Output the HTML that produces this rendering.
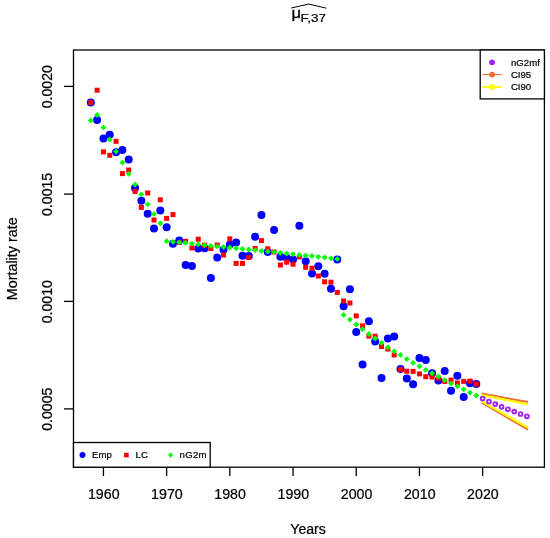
<!DOCTYPE html>
<html><head><meta charset="utf-8"><title>Mortality rate plot</title>
<style>html,body{margin:0;padding:0;background:#fff}svg{display:block}text{font-family:"Liberation Sans",Arial,Helvetica,sans-serif;fill:#000;stroke:#000;stroke-width:0.22px}</style>
</head><body>
<svg width="550" height="538" viewBox="0 0 550 538">
<rect x="0" y="0" width="550" height="538" fill="#fff"/>
<g fill="none" stroke-linecap="butt">
<line x1="481.8" y1="393.6" x2="528.1" y2="402.1" stroke="#EE6A36" stroke-width="2"/>
<line x1="481.8" y1="402.7" x2="528.1" y2="429.7" stroke="#EE6A36" stroke-width="2"/>
<line x1="481.8" y1="395.2" x2="528.1" y2="404.2" stroke="#FFFF00" stroke-width="2.2"/>
<line x1="481.8" y1="401.4" x2="528.1" y2="427.8" stroke="#FFFF00" stroke-width="2.2"/>
</g>
<g fill="#0000FF">
<circle cx="90.80" cy="102.6" r="4"/>
<circle cx="97.12" cy="120.1" r="4"/>
<circle cx="103.44" cy="138.6" r="4"/>
<circle cx="109.76" cy="134.7" r="4"/>
<circle cx="116.08" cy="152.3" r="4"/>
<circle cx="122.40" cy="150.1" r="4"/>
<circle cx="128.72" cy="159.6" r="4"/>
<circle cx="135.04" cy="188.0" r="4"/>
<circle cx="141.36" cy="200.8" r="4"/>
<circle cx="147.68" cy="213.8" r="4"/>
<circle cx="154.00" cy="228.5" r="4"/>
<circle cx="160.32" cy="210.5" r="4"/>
<circle cx="166.64" cy="227.2" r="4"/>
<circle cx="172.96" cy="243.8" r="4"/>
<circle cx="179.28" cy="240.6" r="4"/>
<circle cx="185.60" cy="265.1" r="4"/>
<circle cx="191.92" cy="266.0" r="4"/>
<circle cx="198.24" cy="248.6" r="4"/>
<circle cx="204.56" cy="248.3" r="4"/>
<circle cx="210.88" cy="278.0" r="4"/>
<circle cx="217.20" cy="257.5" r="4"/>
<circle cx="223.52" cy="249.8" r="4"/>
<circle cx="229.84" cy="244.4" r="4"/>
<circle cx="236.16" cy="242.6" r="4"/>
<circle cx="242.48" cy="255.7" r="4"/>
<circle cx="248.80" cy="255.9" r="4"/>
<circle cx="255.12" cy="236.7" r="4"/>
<circle cx="261.44" cy="215.0" r="4"/>
<circle cx="267.76" cy="252.0" r="4"/>
<circle cx="274.08" cy="229.9" r="4"/>
<circle cx="280.40" cy="256.8" r="4"/>
<circle cx="286.72" cy="258.0" r="4"/>
<circle cx="293.04" cy="259.6" r="4"/>
<circle cx="299.36" cy="225.8" r="4"/>
<circle cx="305.68" cy="261.3" r="4"/>
<circle cx="312.00" cy="273.6" r="4"/>
<circle cx="318.32" cy="266.2" r="4"/>
<circle cx="324.64" cy="273.7" r="4"/>
<circle cx="330.96" cy="288.8" r="4"/>
<circle cx="337.28" cy="259.6" r="4"/>
<circle cx="343.60" cy="306.2" r="4"/>
<circle cx="349.92" cy="289.3" r="4"/>
<circle cx="356.24" cy="332.1" r="4"/>
<circle cx="362.56" cy="364.4" r="4"/>
<circle cx="368.88" cy="321.2" r="4"/>
<circle cx="375.20" cy="341.4" r="4"/>
<circle cx="381.52" cy="378.1" r="4"/>
<circle cx="387.84" cy="338.4" r="4"/>
<circle cx="394.16" cy="336.6" r="4"/>
<circle cx="400.48" cy="368.9" r="4"/>
<circle cx="406.80" cy="378.5" r="4"/>
<circle cx="413.12" cy="384.3" r="4"/>
<circle cx="419.44" cy="358.0" r="4"/>
<circle cx="425.76" cy="360.0" r="4"/>
<circle cx="432.08" cy="373.3" r="4"/>
<circle cx="438.40" cy="380.4" r="4"/>
<circle cx="444.72" cy="370.9" r="4"/>
<circle cx="451.04" cy="390.8" r="4"/>
<circle cx="457.36" cy="375.8" r="4"/>
<circle cx="463.68" cy="397.0" r="4"/>
<circle cx="470.00" cy="383.2" r="4"/>
<circle cx="476.32" cy="384.1" r="4"/>
</g>
<g fill="#FF0000">
<rect x="88.30" y="100.1" width="5.0" height="5.0"/>
<rect x="94.62" y="87.7" width="5.0" height="5.0"/>
<rect x="100.94" y="149.4" width="5.0" height="5.0"/>
<rect x="107.26" y="152.8" width="5.0" height="5.0"/>
<rect x="113.58" y="138.8" width="5.0" height="5.0"/>
<rect x="119.90" y="171.1" width="5.0" height="5.0"/>
<rect x="126.22" y="167.6" width="5.0" height="5.0"/>
<rect x="132.54" y="188.9" width="5.0" height="5.0"/>
<rect x="138.86" y="204.9" width="5.0" height="5.0"/>
<rect x="145.18" y="190.5" width="5.0" height="5.0"/>
<rect x="151.50" y="217.5" width="5.0" height="5.0"/>
<rect x="157.82" y="197.3" width="5.0" height="5.0"/>
<rect x="164.14" y="215.9" width="5.0" height="5.0"/>
<rect x="170.46" y="212.1" width="5.0" height="5.0"/>
<rect x="176.78" y="240.0" width="5.0" height="5.0"/>
<rect x="183.10" y="238.8" width="5.0" height="5.0"/>
<rect x="189.42" y="245.5" width="5.0" height="5.0"/>
<rect x="195.74" y="236.7" width="5.0" height="5.0"/>
<rect x="202.06" y="242.7" width="5.0" height="5.0"/>
<rect x="208.38" y="246.0" width="5.0" height="5.0"/>
<rect x="214.70" y="242.5" width="5.0" height="5.0"/>
<rect x="221.02" y="252.4" width="5.0" height="5.0"/>
<rect x="227.34" y="236.4" width="5.0" height="5.0"/>
<rect x="233.66" y="260.9" width="5.0" height="5.0"/>
<rect x="239.98" y="260.9" width="5.0" height="5.0"/>
<rect x="246.30" y="254.9" width="5.0" height="5.0"/>
<rect x="252.62" y="246.0" width="5.0" height="5.0"/>
<rect x="258.94" y="238.1" width="5.0" height="5.0"/>
<rect x="265.26" y="246.3" width="5.0" height="5.0"/>
<rect x="271.58" y="249.5" width="5.0" height="5.0"/>
<rect x="277.90" y="262.5" width="5.0" height="5.0"/>
<rect x="284.22" y="259.7" width="5.0" height="5.0"/>
<rect x="290.54" y="261.7" width="5.0" height="5.0"/>
<rect x="296.86" y="254.4" width="5.0" height="5.0"/>
<rect x="303.18" y="264.8" width="5.0" height="5.0"/>
<rect x="309.50" y="265.7" width="5.0" height="5.0"/>
<rect x="315.82" y="273.5" width="5.0" height="5.0"/>
<rect x="322.14" y="279.3" width="5.0" height="5.0"/>
<rect x="328.46" y="279.7" width="5.0" height="5.0"/>
<rect x="334.78" y="289.9" width="5.0" height="5.0"/>
<rect x="341.10" y="298.5" width="5.0" height="5.0"/>
<rect x="347.42" y="300.5" width="5.0" height="5.0"/>
<rect x="353.74" y="313.4" width="5.0" height="5.0"/>
<rect x="360.06" y="323.4" width="5.0" height="5.0"/>
<rect x="366.38" y="333.6" width="5.0" height="5.0"/>
<rect x="372.70" y="333.7" width="5.0" height="5.0"/>
<rect x="379.02" y="344.0" width="5.0" height="5.0"/>
<rect x="385.34" y="346.5" width="5.0" height="5.0"/>
<rect x="391.66" y="352.5" width="5.0" height="5.0"/>
<rect x="397.98" y="367.1" width="5.0" height="5.0"/>
<rect x="404.30" y="368.7" width="5.0" height="5.0"/>
<rect x="410.62" y="368.9" width="5.0" height="5.0"/>
<rect x="416.94" y="371.4" width="5.0" height="5.0"/>
<rect x="423.26" y="374.2" width="5.0" height="5.0"/>
<rect x="429.58" y="374.5" width="5.0" height="5.0"/>
<rect x="435.90" y="375.5" width="5.0" height="5.0"/>
<rect x="442.22" y="378.9" width="5.0" height="5.0"/>
<rect x="448.54" y="377.6" width="5.0" height="5.0"/>
<rect x="454.86" y="380.5" width="5.0" height="5.0"/>
<rect x="461.18" y="378.9" width="5.0" height="5.0"/>
<rect x="467.50" y="378.6" width="5.0" height="5.0"/>
<rect x="473.82" y="381.6" width="5.0" height="5.0"/>
</g>
<g fill="#00FF00">
<polygon points="90.80,117.6 93.75,120.6 90.80,123.5 87.85,120.6"/>
<polygon points="97.12,112.0 100.07,114.9 97.12,117.9 94.17,114.9"/>
<polygon points="103.44,124.5 106.39,127.4 103.44,130.3 100.49,127.4"/>
<polygon points="109.76,136.6 112.71,139.5 109.76,142.4 106.81,139.5"/>
<polygon points="116.08,148.7 119.03,151.6 116.08,154.5 113.13,151.6"/>
<polygon points="122.40,159.7 125.35,162.6 122.40,165.5 119.45,162.6"/>
<polygon points="128.72,171.0 131.67,173.9 128.72,176.8 125.77,173.9"/>
<polygon points="135.04,181.6 137.99,184.5 135.04,187.4 132.09,184.5"/>
<polygon points="141.36,191.5 144.31,194.4 141.36,197.3 138.41,194.4"/>
<polygon points="147.68,201.4 150.63,204.3 147.68,207.2 144.73,204.3"/>
<polygon points="154.00,211.2 156.95,214.1 154.00,217.0 151.05,214.1"/>
<polygon points="160.32,220.4 163.27,223.3 160.32,226.2 157.37,223.3"/>
<polygon points="166.64,238.2 169.59,241.2 166.64,244.1 163.69,241.2"/>
<polygon points="172.96,238.9 175.91,241.8 172.96,244.8 170.01,241.8"/>
<polygon points="179.28,239.5 182.23,242.4 179.28,245.3 176.33,242.4"/>
<polygon points="185.60,239.9 188.55,242.8 185.60,245.8 182.65,242.8"/>
<polygon points="191.92,240.8 194.87,243.7 191.92,246.6 188.97,243.7"/>
<polygon points="198.24,241.4 201.19,244.3 198.24,247.2 195.29,244.3"/>
<polygon points="204.56,242.2 207.51,245.2 204.56,248.1 201.61,245.2"/>
<polygon points="210.88,243.0 213.83,245.9 210.88,248.8 207.93,245.9"/>
<polygon points="217.20,243.5 220.15,246.4 217.20,249.3 214.25,246.4"/>
<polygon points="223.52,244.1 226.47,247.0 223.52,249.9 220.57,247.0"/>
<polygon points="229.84,244.6 232.79,247.5 229.84,250.4 226.89,247.5"/>
<polygon points="236.16,245.3 239.11,248.2 236.16,251.2 233.21,248.2"/>
<polygon points="242.48,246.1 245.43,249.0 242.48,251.9 239.53,249.0"/>
<polygon points="248.80,246.6 251.75,249.5 248.80,252.4 245.85,249.5"/>
<polygon points="255.12,247.2 258.07,250.1 255.12,253.0 252.17,250.1"/>
<polygon points="261.44,248.1 264.39,251.0 261.44,253.9 258.49,251.0"/>
<polygon points="267.76,248.7 270.71,251.6 267.76,254.5 264.81,251.6"/>
<polygon points="274.08,249.1 277.03,252.0 274.08,254.9 271.13,252.0"/>
<polygon points="280.40,249.9 283.35,252.8 280.40,255.8 277.45,252.8"/>
<polygon points="286.72,250.7 289.67,253.6 286.72,256.6 283.77,253.6"/>
<polygon points="293.04,251.2 295.99,254.2 293.04,257.1 290.09,254.2"/>
<polygon points="299.36,252.1 302.31,255.0 299.36,257.9 296.41,255.0"/>
<polygon points="305.68,252.6 308.63,255.5 305.68,258.4 302.73,255.5"/>
<polygon points="312.00,253.1 314.95,256.0 312.00,258.9 309.05,256.0"/>
<polygon points="318.32,253.9 321.27,256.8 318.32,259.8 315.37,256.8"/>
<polygon points="324.64,254.6 327.59,257.5 324.64,260.4 321.69,257.5"/>
<polygon points="330.96,255.4 333.91,258.3 330.96,261.2 328.01,258.3"/>
<polygon points="337.28,255.9 340.23,258.9 337.28,261.8 334.33,258.9"/>
<polygon points="343.60,311.9 346.55,314.9 343.60,317.8 340.65,314.9"/>
<polygon points="349.92,316.7 352.87,319.6 349.92,322.6 346.97,319.6"/>
<polygon points="356.24,321.6 359.19,324.5 356.24,327.4 353.29,324.5"/>
<polygon points="362.56,326.3 365.51,329.2 362.56,332.2 359.61,329.2"/>
<polygon points="368.88,331.0 371.83,333.9 368.88,336.9 365.93,333.9"/>
<polygon points="375.20,335.6 378.15,338.6 375.20,341.5 372.25,338.6"/>
<polygon points="381.52,339.9 384.47,342.9 381.52,345.8 378.57,342.9"/>
<polygon points="387.84,344.4 390.79,347.3 387.84,350.2 384.89,347.3"/>
<polygon points="394.16,348.4 397.11,351.3 394.16,354.2 391.21,351.3"/>
<polygon points="400.48,351.9 403.43,354.9 400.48,357.8 397.53,354.9"/>
<polygon points="406.80,356.2 409.75,359.1 406.80,362.1 403.85,359.1"/>
<polygon points="413.12,359.9 416.07,362.8 413.12,365.8 410.17,362.8"/>
<polygon points="419.44,363.4 422.39,366.3 419.44,369.2 416.49,366.3"/>
<polygon points="425.76,366.9 428.71,369.9 425.76,372.8 422.81,369.9"/>
<polygon points="432.08,370.4 435.03,373.3 432.08,376.2 429.13,373.3"/>
<polygon points="438.40,373.8 441.35,376.7 438.40,379.6 435.45,376.7"/>
<polygon points="444.72,377.2 447.67,380.2 444.72,383.1 441.77,380.2"/>
<polygon points="451.04,380.4 453.99,383.4 451.04,386.3 448.09,383.4"/>
<polygon points="457.36,383.4 460.31,386.3 457.36,389.2 454.41,386.3"/>
<polygon points="463.68,386.4 466.63,389.3 463.68,392.2 460.73,389.3"/>
<polygon points="470.00,389.7 472.95,392.6 470.00,395.6 467.05,392.6"/>
<polygon points="476.32,392.7 479.27,395.6 476.32,398.6 473.37,395.6"/>
</g>
<g fill="none" stroke="#A020F0" stroke-width="1.9">
<circle cx="482.64" cy="398.5" r="1.9"/>
<circle cx="488.96" cy="401.5" r="1.9"/>
<circle cx="495.28" cy="404.1" r="1.9"/>
<circle cx="501.60" cy="406.8" r="1.9"/>
<circle cx="507.92" cy="409.3" r="1.9"/>
<circle cx="514.24" cy="411.6" r="1.9"/>
<circle cx="520.56" cy="414.0" r="1.9"/>
<circle cx="526.88" cy="416.3" r="1.9"/>
</g>
<rect x="73.5" y="50.0" width="470.9" height="417.2" fill="none" stroke="#000" stroke-width="1.3"/>
<g stroke="#000" stroke-width="1.3">
<line x1="103.44" y1="467.2" x2="103.44" y2="476"/>
<line x1="166.64" y1="467.2" x2="166.64" y2="476"/>
<line x1="229.84" y1="467.2" x2="229.84" y2="476"/>
<line x1="293.04" y1="467.2" x2="293.04" y2="476"/>
<line x1="356.24" y1="467.2" x2="356.24" y2="476"/>
<line x1="419.44" y1="467.2" x2="419.44" y2="476"/>
<line x1="482.64" y1="467.2" x2="482.64" y2="476"/>
<line x1="73.5" y1="86.4" x2="64" y2="86.4"/>
<line x1="73.5" y1="194.1" x2="64" y2="194.1"/>
<line x1="73.5" y1="301.4" x2="64" y2="301.4"/>
<line x1="73.5" y1="408.9" x2="64" y2="408.9"/>
</g>
<g font-size="14px" text-anchor="middle">
<text x="103.74" y="499.1" textLength="31.6" lengthAdjust="spacingAndGlyphs">1960</text>
<text x="166.94" y="499.1" textLength="31.6" lengthAdjust="spacingAndGlyphs">1970</text>
<text x="230.14" y="499.1" textLength="31.6" lengthAdjust="spacingAndGlyphs">1980</text>
<text x="293.34" y="499.1" textLength="31.6" lengthAdjust="spacingAndGlyphs">1990</text>
<text x="356.54" y="499.1" textLength="31.6" lengthAdjust="spacingAndGlyphs">2000</text>
<text x="419.74" y="499.1" textLength="31.6" lengthAdjust="spacingAndGlyphs">2010</text>
<text x="482.94" y="499.1" textLength="31.6" lengthAdjust="spacingAndGlyphs">2020</text>
<text transform="translate(52.3,86.7) rotate(-90)" textLength="43.2" lengthAdjust="spacingAndGlyphs">0.0020</text>
<text transform="translate(52.3,194.4) rotate(-90)" textLength="43.2" lengthAdjust="spacingAndGlyphs">0.0015</text>
<text transform="translate(52.3,301.7) rotate(-90)" textLength="43.2" lengthAdjust="spacingAndGlyphs">0.0010</text>
<text transform="translate(52.3,409.2) rotate(-90)" textLength="43.2" lengthAdjust="spacingAndGlyphs">0.0005</text>
<text x="308.1" y="533.7" textLength="35.6" lengthAdjust="spacingAndGlyphs">Years</text>
<text transform="translate(17.4,258.8) rotate(-90)" textLength="83" lengthAdjust="spacingAndGlyphs">Mortality rate</text>
</g>
<polyline points="291.2,8.0 308.8,4.1 326.4,8.2" fill="none" stroke="#000" stroke-width="1"/>
<text transform="translate(291.6,18) scale(1.18,1)" font-size="14px" style="stroke-width:0.3px">μ</text>
<text x="300.5" y="21.6" font-size="11.3px" textLength="25.4" lengthAdjust="spacingAndGlyphs">F,37</text>
<rect x="73.5" y="442.5" width="136.7" height="24.7" fill="#fff" stroke="#000" stroke-width="1.3"/>
<circle cx="82.5" cy="455.1" r="3" fill="#0000FF"/>
<rect x="124.1" y="452.8" width="4.6" height="4.6" fill="#FF0000"/>
<polygon points="170.6,452.5 173.2,455.1 170.6,457.7 168,455.1" fill="#00FF00"/>
<g font-size="9.6px">
<text x="92.1" y="458.4" textLength="19.8" lengthAdjust="spacing">Emp</text>
<text x="135.6" y="458.4">LC</text>
<text x="179.5" y="458.4" textLength="27" lengthAdjust="spacing">nG2m</text>
</g>
<rect x="480.2" y="50.0" width="64.2" height="48.9" fill="#fff" stroke="#000" stroke-width="1.3"/>
<line x1="482.4" y1="74.6" x2="501.7" y2="74.6" stroke="#EE6A36" stroke-width="1.1"/>
<line x1="482.4" y1="87" x2="501.7" y2="87" stroke="#FFFF00" stroke-width="1.9"/>
<circle cx="492.1" cy="62.3" r="2.9" fill="#A020F0"/>
<circle cx="492.1" cy="74.6" r="2.9" fill="#EE6A36"/>
<circle cx="492.1" cy="87" r="2.9" fill="#FFFF00"/>
<g font-size="9.6px">
<text x="510.9" y="65.7" textLength="29" lengthAdjust="spacing">nG2mf</text>
<text x="510.9" y="78" >CI95</text>
<text x="510.9" y="90.4">CI90</text>
</g>
</svg>
</body></html>
